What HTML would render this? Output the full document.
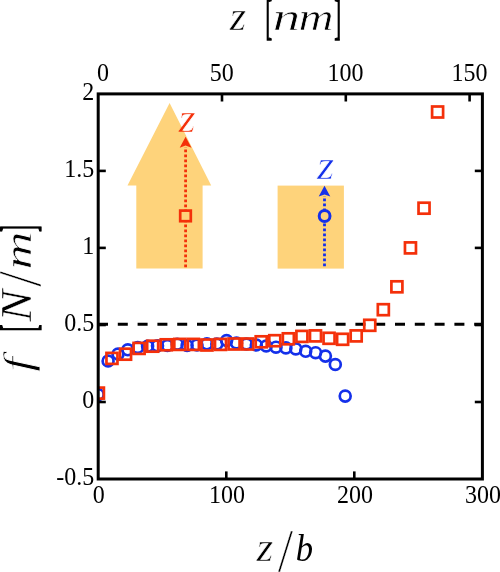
<!DOCTYPE html>
<html><head><meta charset="utf-8"><title>plot</title>
<style>
html,body{margin:0;padding:0;background:#fff;}
svg{display:block;}
text{font-family:"Liberation Serif",serif;}
.tk{font-size:24px;fill:#000;}
.it{font-style:italic;}
</style></head><body>
<svg width="500" height="572" viewBox="0 0 500 572">
<rect x="0" y="0" width="500" height="572" fill="#fff"/>
<defs><clipPath id="ax"><rect x="98.2" y="93.9" width="384.2" height="385.1"/></clipPath></defs>

<polygon points="169.6,103 211.2,185.4 202.6,185.4 202.6,268.5 136.3,268.5 136.3,185.4 127.5,185.4" fill="#fed37b"/>
<rect x="277.6" y="185.6" width="66.3" height="83" fill="#fed37b"/>
<line x1="185.6" y1="267.2" x2="185.6" y2="147" stroke="#f4300a" stroke-width="2.8" stroke-dasharray="2.7 2.3"/>
<polygon points="185.6,136.8 191.5,147.8 185.6,145.6 179.7,147.8" fill="#f4300a"/>
<rect x="180.20" y="210.60" width="10.6" height="10.6" fill="#fed37b" stroke="#f4300a" stroke-width="2.7"/>
<line x1="324.5" y1="266.2" x2="324.5" y2="196" stroke="#1430ea" stroke-width="2.8" stroke-dasharray="2.7 2.3"/>
<polygon points="324.5,185.8 330.3,196.6 324.5,194.6 318.7,196.6" fill="#1430ea"/>
<circle cx="324.6" cy="216.0" r="5.4" fill="#fed37b" stroke="#1430ea" stroke-width="3"/>
<line x1="98.0" y1="324.2" x2="482.4" y2="324.2" stroke="#000" stroke-width="3" stroke-dasharray="10 9.8"/>
<g clip-path="url(#ax)" fill="none" stroke-width="2.7">
<g stroke="#1430ea">
<circle cx="98.2" cy="394.6" r="5.45"/>
<circle cx="108.1" cy="361.0" r="5.45"/>
<circle cx="118.0" cy="354.0" r="5.45"/>
<circle cx="127.8" cy="349.8" r="5.45"/>
<circle cx="137.7" cy="347.5" r="5.45"/>
<circle cx="147.6" cy="346.3" r="5.45"/>
<circle cx="157.5" cy="345.8" r="5.45"/>
<circle cx="167.4" cy="345.5" r="5.45"/>
<circle cx="177.2" cy="344.2" r="5.45"/>
<circle cx="187.1" cy="345.5" r="5.45"/>
<circle cx="197.0" cy="345.0" r="5.45"/>
<circle cx="206.9" cy="343.8" r="5.45"/>
<circle cx="216.8" cy="344.0" r="5.45"/>
<circle cx="226.6" cy="340.5" r="5.45"/>
<circle cx="236.5" cy="343.0" r="5.45"/>
<circle cx="246.4" cy="344.0" r="5.45"/>
<circle cx="256.3" cy="345.0" r="5.45"/>
<circle cx="266.2" cy="346.0" r="5.45"/>
<circle cx="276.0" cy="347.2" r="5.45"/>
<circle cx="285.9" cy="347.9" r="5.45"/>
<circle cx="295.8" cy="348.9" r="5.45"/>
<circle cx="305.7" cy="351.3" r="5.45"/>
<circle cx="315.6" cy="352.7" r="5.45"/>
<circle cx="325.4" cy="356.1" r="5.45"/>
<circle cx="335.3" cy="364.5" r="5.45"/>
<circle cx="345.2" cy="396.1" r="5.45"/>
</g><g stroke="#f4300a">
<rect x="92.90" y="387.60" width="11" height="11"/>
<rect x="106.47" y="352.90" width="11" height="11"/>
<rect x="120.04" y="348.70" width="11" height="11"/>
<rect x="133.60" y="342.90" width="11" height="11"/>
<rect x="147.17" y="340.70" width="11" height="11"/>
<rect x="160.74" y="339.30" width="11" height="11"/>
<rect x="174.31" y="338.90" width="11" height="11"/>
<rect x="187.88" y="338.90" width="11" height="11"/>
<rect x="201.44" y="339.50" width="11" height="11"/>
<rect x="215.01" y="338.90" width="11" height="11"/>
<rect x="228.58" y="338.50" width="11" height="11"/>
<rect x="242.15" y="338.50" width="11" height="11"/>
<rect x="255.72" y="336.30" width="11" height="11"/>
<rect x="269.28" y="335.20" width="11" height="11"/>
<rect x="282.85" y="333.30" width="11" height="11"/>
<rect x="296.42" y="330.90" width="11" height="11"/>
<rect x="309.99" y="330.40" width="11" height="11"/>
<rect x="323.56" y="332.80" width="11" height="11"/>
<rect x="337.12" y="333.80" width="11" height="11"/>
<rect x="350.69" y="330.40" width="11" height="11"/>
<rect x="364.26" y="319.80" width="11" height="11"/>
<rect x="377.83" y="304.20" width="11" height="11"/>
<rect x="391.40" y="281.30" width="11" height="11"/>
<rect x="404.96" y="242.40" width="11" height="11"/>
<rect x="418.53" y="202.70" width="11" height="11"/>
<rect x="432.10" y="106.50" width="11" height="11"/>
</g></g>
<rect x="98.2" y="93.9" width="384.2" height="385.1" fill="none" stroke="#000" stroke-width="3"/>
<g stroke="#000" stroke-width="2.6">
<line x1="226.3" y1="479.0" x2="226.3" y2="471.4"/>
<line x1="354.3" y1="479.0" x2="354.3" y2="471.4"/>
<line x1="222.0" y1="93.9" x2="222.0" y2="101.5"/>
<line x1="345.8" y1="93.9" x2="345.8" y2="101.5"/>
<line x1="469.6" y1="93.9" x2="469.6" y2="101.5"/>
<line x1="98.2" y1="402.0" x2="105.8" y2="402.0"/>
<line x1="482.4" y1="402.0" x2="474.8" y2="402.0"/>
<line x1="98.2" y1="325.0" x2="105.8" y2="325.0"/>
<line x1="482.4" y1="325.0" x2="474.8" y2="325.0"/>
<line x1="98.2" y1="247.9" x2="105.8" y2="247.9"/>
<line x1="482.4" y1="247.9" x2="474.8" y2="247.9"/>
<line x1="98.2" y1="170.9" x2="105.8" y2="170.9"/>
<line x1="482.4" y1="170.9" x2="474.8" y2="170.9"/>
</g>
<g class="tk">
<text transform="translate(98.8,502.6) scale(1,1.075)" text-anchor="middle">0</text>
<text transform="translate(226.9,502.6) scale(1,1.075)" text-anchor="middle">100</text>
<text transform="translate(354.9,502.6) scale(1,1.075)" text-anchor="middle">200</text>
<text transform="translate(483.0,502.6) scale(1,1.075)" text-anchor="middle">300</text>
<text transform="translate(103.0,80.6) scale(1,1.075)" text-anchor="middle">0</text>
<text transform="translate(221.8,80.6) scale(1,1.075)" text-anchor="middle">50</text>
<text transform="translate(345.6,80.6) scale(1,1.075)" text-anchor="middle">100</text>
<text transform="translate(469.4,80.6) scale(1,1.075)" text-anchor="middle">150</text>
<text transform="translate(94.3,485.3) scale(1,1.075)" text-anchor="end">-0.5</text>
<text transform="translate(94.3,408.3) scale(1,1.075)" text-anchor="end">0</text>
<text transform="translate(94.3,331.3) scale(1,1.075)" text-anchor="end">0.5</text>
<text transform="translate(94.3,254.2) scale(1,1.075)" text-anchor="end">1</text>
<text transform="translate(94.3,177.2) scale(1,1.075)" text-anchor="end">1.5</text>
<text transform="translate(94.3,100.2) scale(1,1.075)" text-anchor="end">2</text>
</g>
<defs><pattern id="bgp" patternUnits="userSpaceOnUse" x="0" y="0" width="500" height="572" patternTransform="scale(0.89604,1) translate(-178.44,-131.60)"><rect width="500" height="572" fill="#fff"/><polygon points="169.6,103 211.2,185.4 202.6,185.4 202.6,268.5 136.3,268.5 136.3,185.4 127.5,185.4" fill="#fed37b"/></pattern></defs><text class="it" transform="translate(178.44,131.60) scale(1.116,1)" font-size="39.57" fill="#f4300a" stroke="url(#bgp)" stroke-width="0.70">z</text>
<text class="it" transform="translate(316.94,178.70) scale(1.123,1)" font-size="39.57" fill="#1430ea" stroke="#fff" stroke-width="0.70">z</text>
<text class="it" transform="translate(229.72,30.30) scale(1.064,1)" font-size="39.57" fill="#000" stroke="#fff" stroke-width="0.60">z</text>
<text transform="translate(265.42,33.23) scale(0.406,1)" font-size="48.67" fill="#000" stroke="#000" stroke-width="1.30">[</text>
<text class="it" transform="translate(272.68,30.10) scale(1.450,1)" font-size="37.87" fill="#000" stroke="#fff" stroke-width="0.60">n</text>
<text class="it" transform="translate(298.47,30.10) scale(1.286,1)" font-size="37.87" fill="#000" stroke="#fff" stroke-width="0.60">m</text>
<text transform="translate(334.28,33.23) scale(0.420,1)" font-size="48.67" fill="#000" stroke="#000" stroke-width="1.30">]</text>
<text class="it" transform="translate(256.43,561.20) scale(1.096,1)" font-size="39.35" fill="#000" stroke="#fff" stroke-width="0.60">z</text>
<text class="it" transform="translate(279.66,571.39) scale(0.604,1)" font-size="61.19" fill="#000" stroke="#fff" stroke-width="0.40">/</text>
<text class="it" transform="translate(295.80,560.82) scale(0.902,1)" font-size="38.44" fill="#000">b</text>
<text class="it" transform="translate(30.65,371.86) rotate(-90) scale(1.315,1)" font-size="40.22" fill="#000" stroke="#fff" stroke-width="0.75">f</text>
<text transform="translate(33.93,331.55) rotate(-90) scale(0.425,1)" font-size="48.67" fill="#000" stroke="#000" stroke-width="1.30">[</text>
<text class="it" transform="translate(31.00,321.44) rotate(-90) scale(1.088,1)" font-size="43.51" fill="#000" stroke="#fff" stroke-width="0.40">N</text>
<text class="it" transform="translate(40.38,284.87) rotate(-90) scale(0.624,1)" font-size="61.64" fill="#000" stroke="#fff" stroke-width="0.50">/</text>
<text class="it" transform="translate(30.80,269.38) rotate(-90) scale(1.378,1)" font-size="38.30" fill="#000" stroke="#fff" stroke-width="0.60">m</text>
<text transform="translate(33.93,232.12) rotate(-90) scale(0.420,1)" font-size="48.67" fill="#000" stroke="#000" stroke-width="1.30">]</text>
</svg></body></html>
